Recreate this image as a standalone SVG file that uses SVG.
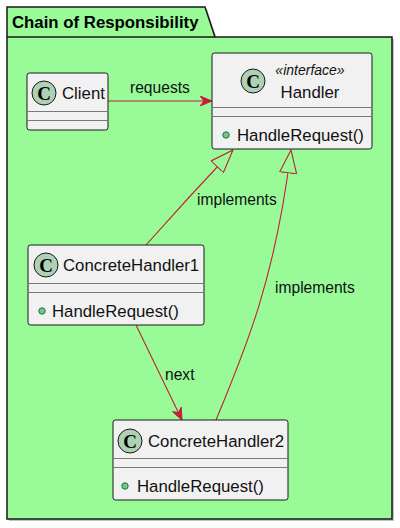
<svg xmlns="http://www.w3.org/2000/svg" width="400" height="528" viewBox="0 0 400 528">
<defs>
<style>
.cls{fill:#F1F1F1;stroke:#181818;stroke-width:1}
.sep{stroke:#7a7a7a;stroke-width:1.2}
.ci{fill:#ADD1B2;stroke:#181818;stroke-width:1}
.cg{font-family:"Liberation Serif",serif;font-weight:bold;font-size:19px;fill:#000;text-anchor:middle}
.t{font-family:"Liberation Sans",Arial,sans-serif;font-size:16.8px;fill:#111}
.st{font-family:"Liberation Sans",Arial,sans-serif;font-size:14px;font-style:italic;fill:#111;text-anchor:middle}
.lbl{font-family:"Liberation Sans",Arial,sans-serif;font-size:15.6px;fill:#111}
.dot{fill:#84BE84;stroke:#038048;stroke-width:1}
.ln{fill:none;stroke:#C41E3A;stroke-width:1.1}
</style>
<marker id="arr" viewBox="0 0 12 10" refX="12" refY="5" markerWidth="12" markerHeight="10" markerUnits="userSpaceOnUse" orient="auto">
<path d="M0,0 L12,5 L0,10 L4,5 Z" fill="#C41E3A" stroke="#C41E3A" stroke-width="1"/>
</marker>
<marker id="tri" viewBox="0 0 24 18" refX="23.5" refY="9" markerWidth="24" markerHeight="18" markerUnits="userSpaceOnUse" orient="auto">
<path d="M0.5,0.5 L23.5,9 L0.5,17.5 Z" fill="#98FB98" stroke="#C41E3A" stroke-width="1.1"/>
</marker>
</defs>
<rect width="400" height="528" fill="#FFFFFF"/>
<g id="package">
<path d="M9,9 h198 l10,30 h177 v482 h-385 z" fill="#888" opacity="0.5"/>
<path d="M7,7 h198 l10,30 h177 v482 h-385 z" fill="#98FB98" stroke="#181818" stroke-width="1.5"/>
<line x1="7" y1="37" x2="215" y2="37" stroke="#181818" stroke-width="1.5"/>
<text x="12" y="28" font-family="Liberation Sans,Arial,sans-serif" font-weight="bold" font-size="16.8px" fill="#000">Chain of Responsibility</text>
</g>
<g id="connectors">
<path class="ln" d="M108,101 L212,101" marker-end="url(#arr)"/>
<text class="lbl" x="130" y="93">requests</text>
<path class="ln" d="M146,245 C170,218 200,185 233,150" marker-end="url(#tri)"/>
<text class="lbl" x="197" y="205">implements</text>
<path class="ln" d="M216,420 C245,350 275,280 291,150" marker-end="url(#tri)"/>
<text class="lbl" x="275" y="293">implements</text>
<path class="ln" d="M136,325 L182,420" marker-end="url(#arr)"/>
<text class="lbl" x="165" y="380">next</text>
</g>
<g id="client">
<rect class="cls" x="27" y="73" width="81" height="57" rx="2.5"/>
<line class="sep" x1="27" y1="111.5" x2="108" y2="111.5"/>
<line class="sep" x1="27" y1="120.5" x2="108" y2="120.5"/>
<circle class="ci" cx="44" cy="93" r="12"/>
<text class="cg" x="44" y="99.5">C</text>
<text class="t" x="62" y="99">Client</text>
</g>
<g id="handler">
<rect class="cls" x="212" y="53" width="160" height="96" rx="2.5"/>
<line class="sep" x1="212" y1="107.5" x2="372" y2="107.5"/>
<line class="sep" x1="212" y1="116.5" x2="372" y2="116.5"/>
<circle class="ci" cx="253" cy="81" r="12"/>
<text class="cg" x="253" y="87.5">C</text>
<text class="st" x="310" y="75">«interface»</text>
<text class="t" x="310" y="98" text-anchor="middle">Handler</text>
<circle class="dot" cx="226" cy="135" r="3.2"/>
<text class="t" x="237" y="141">HandleRequest()</text>
</g>
<g id="concrete1">
<rect class="cls" x="28" y="245" width="176" height="80" rx="2.5"/>
<line class="sep" x1="28" y1="283.5" x2="204" y2="283.5"/>
<line class="sep" x1="28" y1="292.5" x2="204" y2="292.5"/>
<circle class="ci" cx="46" cy="265" r="12"/>
<text class="cg" x="46" y="271.5">C</text>
<text class="t" x="63" y="271">ConcreteHandler1</text>
<circle class="dot" cx="42" cy="311" r="3.2"/>
<text class="t" x="52" y="317">HandleRequest()</text>
</g>
<g id="concrete2">
<rect class="cls" x="113" y="420" width="175" height="80" rx="2.5"/>
<line class="sep" x1="113" y1="458.5" x2="288" y2="458.5"/>
<line class="sep" x1="113" y1="467.5" x2="288" y2="467.5"/>
<circle class="ci" cx="130" cy="441" r="12"/>
<text class="cg" x="130" y="447.5">C</text>
<text class="t" x="148" y="447">ConcreteHandler2</text>
<circle class="dot" cx="125" cy="486" r="3.2"/>
<text class="t" x="137" y="492">HandleRequest()</text>
</g>
</svg>
